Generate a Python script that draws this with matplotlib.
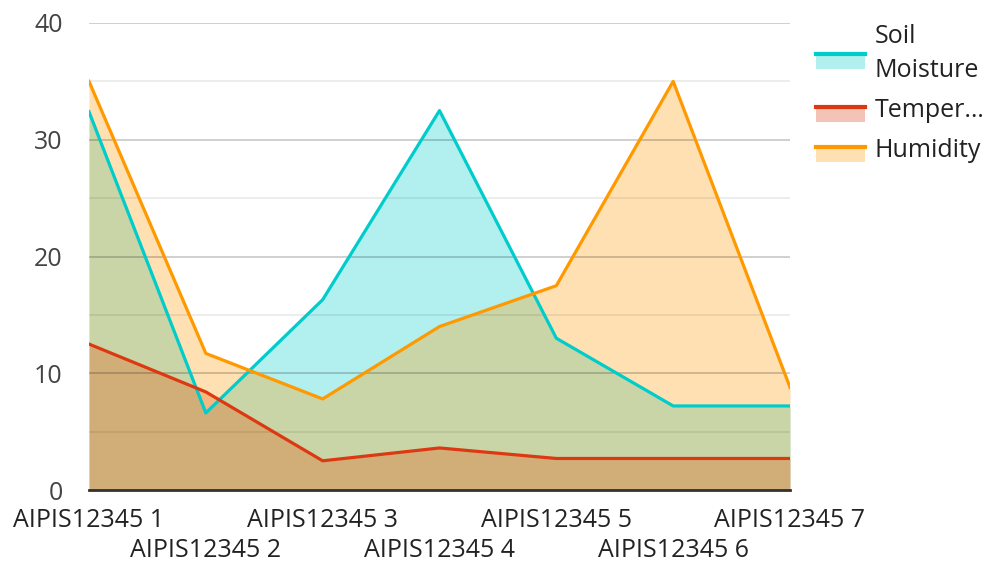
import numpy as np
import matplotlib
matplotlib.use("Agg")
import matplotlib.pyplot as plt
from matplotlib.patches import Rectangle
from matplotlib.lines import Line2D
from matplotlib.legend_handler import HandlerBase

plt.rcParams.update({"font.family": ["Open Sans", "DejaVu Sans"], "font.size": 18})

categories = ["AIPIS12345 1", "AIPIS12345 2", "AIPIS12345 3", "AIPIS12345 4",
              "AIPIS12345 5", "AIPIS12345 6", "AIPIS12345 7"]
soil = [32.4, 6.6, 16.3, 32.5, 13.0, 7.2, 7.2]
temp = [12.5, 8.4, 2.5, 3.6, 2.7, 2.7, 2.7]
humid = [35.0, 11.7, 7.8, 14.0, 17.5, 35.0, 8.8]
series = [("Soil\nMoisture", soil, "#00CCCC"),
          ("Temper…", temp, "#DC3912"),
          ("Humidity", humid, "#FF9900")]

class AreaHandler(HandlerBase):
    def __init__(self, color):
        super().__init__(); self.color = color
    def create_artists(self, legend, orig, xd, yd, w, h, fs, trans):
        r = Rectangle((xd, yd - 0.3*h), w, h*0.9, facecolor=self.color, alpha=0.3, edgecolor="none", transform=trans)
        l = Line2D([xd, xd + w], [yd + 0.55*h, yd + 0.55*h], color=self.color, lw=3, transform=trans)
        return [r, l]

fig = plt.figure(figsize=(9.82, 5.62), dpi=100)
ax = fig.add_axes([89/982, 1-490/562, (790-89)/982, (490-23)/562])
x = np.arange(len(categories))
handles = []; hmap = {}
for name, vals, col in series:
    ax.fill_between(x, 0, vals, color=col, alpha=0.3, lw=0, zorder=1)
for name, vals, col in series:
    ln, = ax.plot(x, vals, color=col, lw=2.3, zorder=3, label=name)
    handles.append(ln); hmap[ln] = AreaHandler(col)

ax.set_xlim(0, len(categories)-1); ax.set_ylim(0, 40)
ax.set_yticks([0, 10, 20, 30, 40])
ax.set_yticks([5, 15, 25, 35], minor=True)
ax.set_axisbelow(False)
ax.grid(axis="y", which="major", color="#000000", alpha=0.2, lw=1.3, zorder=2)
ax.grid(axis="y", which="minor", color="#000000", alpha=0.08, lw=1.3, zorder=2)
ax.set_xticks(x[::2], [categories[i] for i in x[::2]], color="#222222")
ax.set_xticks(x[1::2], [categories[i] for i in x[1::2]], minor=True, color="#222222")
ax.tick_params(axis="both", which="both", length=0)
ax.tick_params(axis="y", which="both", colors="#444444", pad=19)
ax.tick_params(axis="x", which="major", pad=13)
ax.tick_params(axis="x", which="minor", pad=34.5)
for s in ["top", "right", "left"]: ax.spines[s].set_visible(False)
ax.spines["bottom"].set_color("#333333"); ax.spines["bottom"].set_linewidth(2); ax.spines["bottom"].set_zorder(4)

leg = ax.legend(handles=handles, handler_map=hmap, loc="upper left", bbox_to_anchor=(1.005, 1.045),
                frameon=False, handlelength=1.95, handletextpad=0.4, labelspacing=0.6, labelcolor="#222222")
leg.get_texts()[0].set_linespacing(1.45)
fig.savefig("out.png", dpi=100)
